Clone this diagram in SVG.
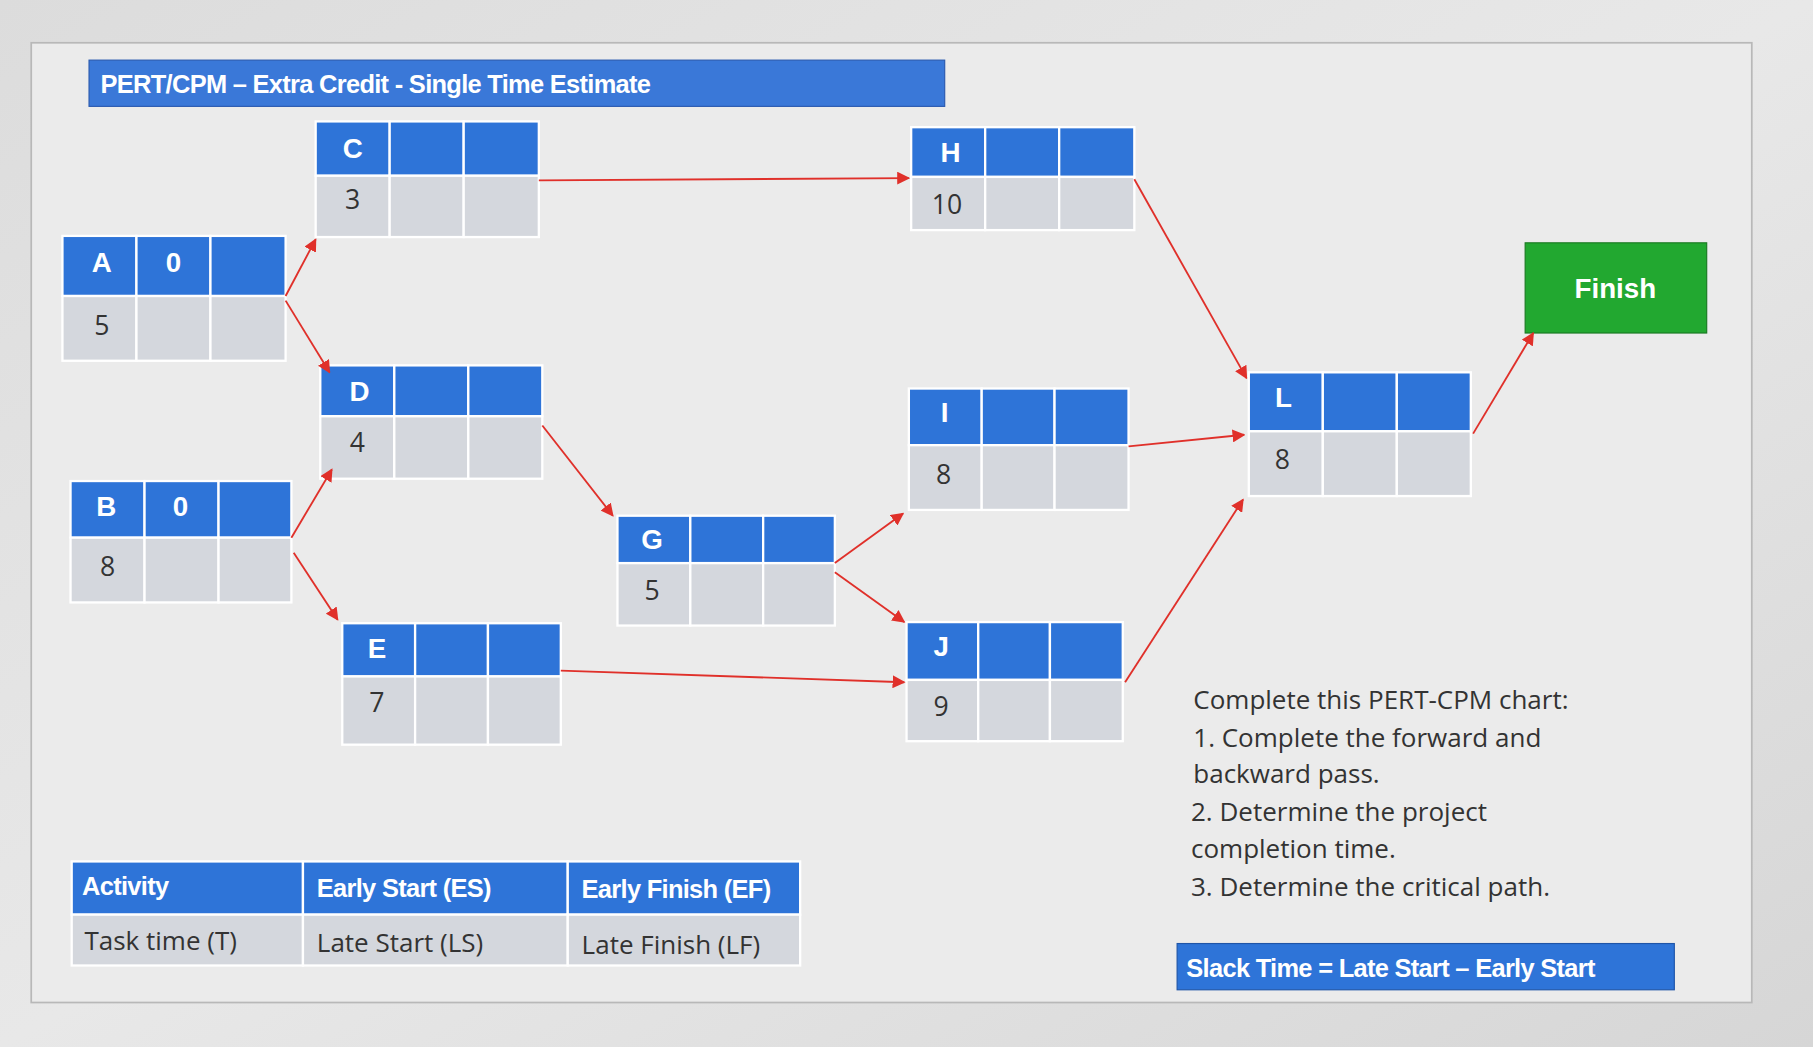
<svg xmlns="http://www.w3.org/2000/svg" width="1813" height="1047" viewBox="0 0 1813 1047">
<defs>
<marker id="ah" viewBox="0 0 10 10" refX="9" refY="5" markerWidth="7" markerHeight="7" orient="auto-start-reverse"><path d="M0,0 L10,5 L0,10 z" fill="#e0302a"/></marker>
<linearGradient id="bg" x1="0" y1="0" x2="1" y2="1"><stop offset="0" stop-color="#dcdcdc"/><stop offset="0.5" stop-color="#e8e8e8"/><stop offset="1" stop-color="#d6d6d6"/></linearGradient>
</defs>
<style>
.h{fill:#2e74d8;stroke:#fff;stroke-width:2}
.l{fill:#d4d7dd;stroke:#fff;stroke-width:2}
.ht{font-family:"Liberation Sans",Arial,sans-serif;font-weight:bold;font-size:24px;fill:#fff;text-anchor:middle}
.bt{font-family:"Liberation Sans",Arial,sans-serif;font-weight:bold;font-size:22px;fill:#fff;letter-spacing:-0.6px}
.lt{font-family:"Open Sans","Liberation Sans",sans-serif;font-size:23px;fill:#333;text-anchor:middle}
.c line{stroke:#e0302a;stroke-width:1.6;marker-end:url(#ah)}
.tx{font-family:"Open Sans","Liberation Sans",sans-serif;font-size:22.5px;fill:#333}
</style>
<rect width="1813" height="1047" fill="url(#bg)"/>
<g transform="scale(1.1563)">
<rect x="27" y="37" width="1488" height="830" fill="#ebebeb" stroke="#b8b8b8" stroke-width="1.5"/>
<g id="title"><rect x="77" y="52" width="740" height="40" fill="#3a78d8" stroke="#2a5ab0"/><text x="87" y="80" class="bt" font-size="24">PERT/CPM – Extra Credit -  Single Time Estimate</text></g>
<g id="C" transform="translate(273,105)"><rect class="h" x="0" y="0" width="64" height="47"/><rect class="h" x="64" y="0" width="64" height="47"/><rect class="h" x="128" y="0" width="65" height="47"/><rect class="l" x="0" y="47" width="64" height="53"/><rect class="l" x="64" y="47" width="64" height="53"/><rect class="l" x="128" y="47" width="65" height="53"/><text class="ht" x="32" y="32">C</text><text class="lt" x="32" y="76">3</text></g>
<g id="A" transform="translate(54,204)"><rect class="h" x="0" y="0" width="64" height="52"/><rect class="h" x="64" y="0" width="64" height="52"/><rect class="h" x="128" y="0" width="65" height="52"/><rect class="l" x="0" y="52" width="64" height="56"/><rect class="l" x="64" y="52" width="64" height="56"/><rect class="l" x="128" y="52" width="65" height="56"/><text class="ht" x="34" y="31">A</text><text class="ht" x="96" y="31">0</text><text class="lt" x="34" y="86">5</text></g>
<g id="D" transform="translate(277,316)"><rect class="h" x="0" y="0" width="64" height="44"/><rect class="h" x="64" y="0" width="64" height="44"/><rect class="h" x="128" y="0" width="64" height="44"/><rect class="l" x="0" y="44" width="64" height="54"/><rect class="l" x="64" y="44" width="64" height="54"/><rect class="l" x="128" y="44" width="64" height="54"/><text class="ht" x="34" y="31">D</text><text class="lt" x="32" y="75">4</text></g>
<g id="B" transform="translate(61,416)"><rect class="h" x="0" y="0" width="64" height="49"/><rect class="h" x="64" y="0" width="64" height="49"/><rect class="h" x="128" y="0" width="63" height="49"/><rect class="l" x="0" y="49" width="64" height="56"/><rect class="l" x="64" y="49" width="64" height="56"/><rect class="l" x="128" y="49" width="63" height="56"/><text class="ht" x="31" y="30">B</text><text class="ht" x="95" y="30">0</text><text class="lt" x="32" y="82">8</text></g>
<g id="E" transform="translate(296,539)"><rect class="h" x="0" y="0" width="63" height="46"/><rect class="h" x="63" y="0" width="63" height="46"/><rect class="h" x="126" y="0" width="63" height="46"/><rect class="l" x="0" y="46" width="63" height="59"/><rect class="l" x="63" y="46" width="63" height="59"/><rect class="l" x="126" y="46" width="63" height="59"/><text class="ht" x="30" y="30">E</text><text class="lt" x="30" y="77">7</text></g>
<g id="G" transform="translate(534,446)"><rect class="h" x="0" y="0" width="63" height="41"/><rect class="h" x="63" y="0" width="63" height="41"/><rect class="h" x="126" y="0" width="62" height="41"/><rect class="l" x="0" y="41" width="63" height="54"/><rect class="l" x="63" y="41" width="63" height="54"/><rect class="l" x="126" y="41" width="62" height="54"/><text class="ht" x="30" y="29">G</text><text class="lt" x="30" y="73">5</text></g>
<g id="H" transform="translate(788,110)"><rect class="h" x="0" y="0" width="64" height="43"/><rect class="h" x="64" y="0" width="64" height="43"/><rect class="h" x="128" y="0" width="65" height="43"/><rect class="l" x="0" y="43" width="64" height="46"/><rect class="l" x="64" y="43" width="64" height="46"/><rect class="l" x="128" y="43" width="65" height="46"/><text class="ht" x="34" y="30">H</text><text class="lt" x="31" y="75">10</text></g>
<g id="I" transform="translate(786,336)"><rect class="h" x="0" y="0" width="63" height="49"/><rect class="h" x="63" y="0" width="63" height="49"/><rect class="h" x="126" y="0" width="64" height="49"/><rect class="l" x="0" y="49" width="63" height="56"/><rect class="l" x="63" y="49" width="63" height="56"/><rect class="l" x="126" y="49" width="64" height="56"/><text class="ht" x="31" y="29">I</text><text class="lt" x="30" y="83">8</text></g>
<g id="J" transform="translate(784,538)"><rect class="h" x="0" y="0" width="62" height="50"/><rect class="h" x="62" y="0" width="62" height="50"/><rect class="h" x="124" y="0" width="63" height="50"/><rect class="l" x="0" y="50" width="62" height="53"/><rect class="l" x="62" y="50" width="62" height="53"/><rect class="l" x="124" y="50" width="63" height="53"/><text class="ht" x="30" y="29">J</text><text class="lt" x="30" y="81">9</text></g>
<g id="L" transform="translate(1080,322)"><rect class="h" x="0" y="0" width="64" height="51"/><rect class="h" x="64" y="0" width="64" height="51"/><rect class="h" x="128" y="0" width="64" height="51"/><rect class="l" x="0" y="51" width="64" height="56"/><rect class="l" x="64" y="51" width="64" height="56"/><rect class="l" x="128" y="51" width="64" height="56"/><text class="ht" x="30" y="30">L</text><text class="lt" x="29" y="84">8</text></g>
<g id="Finish"><rect x="1319" y="210" width="157" height="78" fill="#22a830" stroke="#1a7a22"/><text class="ht" x="1397" y="258">Finish</text></g>
<g class="c" id="connectors">
<line x1="247" y1="256" x2="273" y2="207"/>
<line x1="247" y1="260" x2="285" y2="322"/>
<line x1="252" y1="465" x2="287" y2="406"/>
<line x1="254" y1="478" x2="292" y2="536"/>
<line x1="466" y1="156" x2="786" y2="154"/>
<line x1="469" y1="368" x2="530" y2="446"/>
<line x1="485" y1="580" x2="782" y2="590"/>
<line x1="722" y1="487" x2="781" y2="444"/>
<line x1="722" y1="495" x2="782" y2="538"/>
<line x1="981" y1="155" x2="1078" y2="327"/>
<line x1="976" y1="386" x2="1076" y2="376"/>
<line x1="973" y1="590" x2="1075" y2="432"/>
<line x1="1274" y1="375" x2="1326" y2="288"/>
</g>
<g id="legend">
<rect class="h" x="62" y="745" width="200" height="46"/><rect class="h" x="262" y="745" width="229" height="46"/><rect class="h" x="491" y="745" width="201" height="46"/>
<rect class="l" x="62" y="791" width="200" height="44"/><rect class="l" x="262" y="791" width="229" height="44"/><rect class="l" x="491" y="791" width="201" height="44"/>
<text class="bt" x="71" y="774">Activity</text><text class="bt" x="274" y="776">Early Start (ES)</text><text class="bt" x="503" y="777">Early Finish (EF)</text>
<text class="tx" x="73" y="822">Task time (T)</text><text class="tx" x="274" y="823">Late Start (LS)</text><text class="tx" x="503" y="825">Late Finish (LF)</text>
</g>
<g id="instructions" class="tx">
<text x="1032" y="613">Complete this PERT-CPM chart:</text>
<text x="1032" y="646">1. Complete the forward and</text>
<text x="1032" y="677">backward pass.</text>
<text x="1030" y="710">2. Determine the project</text>
<text x="1030" y="742">completion time.</text>
<text x="1030" y="775">3. Determine the critical path.</text>
</g>
<g id="slack"><rect x="1018" y="816" width="430" height="40" fill="#2e74d8" stroke="#1f55a8"/><text class="bt" x="1026" y="845">Slack Time = Late Start – Early Start</text></g>
</g>
</svg>
